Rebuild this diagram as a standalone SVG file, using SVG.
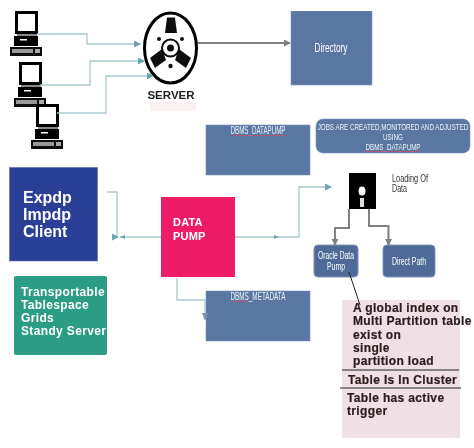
<svg xmlns="http://www.w3.org/2000/svg" width="474" height="448" viewBox="0 0 474 448">
<style>
text{font-family:"Liberation Sans",Arial,sans-serif}
.blue{fill:#5a76a2;stroke:#8296b8;stroke-width:.6}
.dark{fill:#4f6b98;stroke:#7e93b6;stroke-width:1}
.lbl{fill:#fff;text-anchor:middle}
.dbms{fill:#eef2f8;text-anchor:middle}
.cw{fill:#fff;font-weight:bold}
.note{fill:#2a1c1e;font-weight:bold;font-size:12px;letter-spacing:.35px;stroke:#2a1c1e;stroke-width:.2}
.teal{fill:none;stroke:#a9c8cd;stroke-width:1.3}
.grey{fill:none;stroke:#7f8285;stroke-width:2}
.sq{fill:none;stroke:#c0506e;stroke-width:.8}
</style>
<defs>
<marker id="at" markerWidth="8" markerHeight="8" refX="6" refY="3.5" orient="auto" markerUnits="userSpaceOnUse"><path d="M0 0L7 3.5L0 7Z" fill="#6fa3ab"/></marker>
<marker id="ag" markerWidth="8" markerHeight="8" refX="6" refY="3.5" orient="auto" markerUnits="userSpaceOnUse"><path d="M0 0L7 3.5L0 7Z" fill="#7f8285"/></marker>
<g id="pc">
<rect x="6.5" y="1.5" width="20" height="20" fill="#fff" stroke="#000" stroke-width="3"/>
<rect x="7" y="23" width="20" height="2" fill="#888"/>
<rect x="4" y="25" width="24" height="10" fill="#000"/>
<rect x="10" y="28" width="7" height="1.5" fill="#fff"/>
<rect x="0" y="36" width="32" height="9" fill="#111"/>
<rect x="2" y="38" width="21" height="4" fill="#999"/>
<rect x="25" y="38" width="5" height="4" fill="#aaa"/>
</g>
<filter id="soft" x="0" y="0" width="100%" height="100%"><feGaussianBlur stdDeviation="0.35"/></filter>
</defs>
<rect width="474" height="448" fill="#fff"/>
<g filter="url(#soft)">

<g id="pc1"><use href="#pc" transform="translate(10,11)"/></g>
<g id="pc2"><use href="#pc" transform="translate(14,62)"/></g>
<g id="pc3"><use href="#pc" transform="translate(31,104)"/></g>

<g id="server">
<ellipse cx="170.5" cy="48" rx="26" ry="35" fill="#fff" stroke="#000" stroke-width="3"/>
<path d="M167 17.500H175L177 33H165Z" fill="#111"/>
<path d="M150 58L162 49L166 60L155 68Z" fill="#111"/>
<path d="M191 58L179 49L175 60L186 68Z" fill="#111"/>
<circle cx="170.5" cy="48" r="8.500" fill="none" stroke="#111" stroke-width="2"/>
<circle cx="170.5" cy="48" r="3.500" fill="#111"/>
<circle cx="159" cy="39" r="2" fill="#111"/>
<circle cx="182" cy="39" r="2" fill="#111"/>
<circle cx="170.5" cy="66" r="2.200" fill="#111"/>
<rect x="150" y="102" width="46" height="9" fill="#fbf0f0"/>
<text x="171" y="99" font-size="11.500" font-weight="bold" text-anchor="middle" fill="#222">SERVER</text>
</g>

<g id="directory">
<rect class="blue" x="291" y="11" width="81" height="74"/>
<text class="lbl" x="331" y="52" font-size="12" textLength="33" lengthAdjust="spacingAndGlyphs">Directory</text>
</g>

<g id="dbms-datapump">
<rect class="blue" x="206" y="125" width="104" height="50"/>
<text class="dbms" x="258" y="134" font-size="10" textLength="55" lengthAdjust="spacingAndGlyphs">DBMS_DATAPUMP</text>
<path class="sq" d="M231 135.500h55"/>
</g>

<g id="jobs">
<rect class="blue" x="316" y="119" width="154" height="34" rx="7"/>
<text class="dbms" transform="translate(393,130) scale(.66,1)" font-size="9.500">JOBS ARE CREATED,MONITORED AND  ADJUSTED</text>
<text class="dbms" x="393" y="140" font-size="9.500" textLength="20" lengthAdjust="spacingAndGlyphs">USING</text>
<text class="dbms" x="393" y="150" font-size="9.500" textLength="55" lengthAdjust="spacingAndGlyphs">DBMS_DATAPUMP</text>
<path class="sq" d="M365 151.500h55"/>
</g>

<g id="client">
<rect x="9.500" y="167.500" width="88" height="93.500" fill="#2b4096" stroke="#5a6cae" stroke-width=".6"/>
<text class="cw" x="23" y="203" font-size="16">Expdp</text>
<text class="cw" x="23" y="220" font-size="16">Impdp</text>
<text class="cw" x="23" y="237" font-size="16">Client</text>
</g>

<g id="transportable">
<rect x="14" y="276" width="93" height="79" rx="2" fill="#2a9d84"/>
<text class="cw" x="21" y="296" font-size="12" letter-spacing=".35">Transportable</text>
<text class="cw" x="21" y="309" font-size="12" letter-spacing=".35">Tablespace</text>
<text class="cw" x="21" y="322" font-size="12" letter-spacing=".35">Grids</text>
<text class="cw" x="21" y="335" font-size="12" letter-spacing=".35">Standy Server</text>
</g>

<g id="data-pump">
<rect x="161" y="197" width="74" height="80" fill="#ee1e66"/>
<text class="cw" x="173" y="226" font-size="11" letter-spacing=".2">DATA</text>
<text class="cw" x="173" y="240" font-size="11" letter-spacing=".2">PUMP</text>
</g>

<g id="dbms-metadata">
<rect class="blue" x="206" y="291" width="104" height="50"/>
<text class="dbms" x="258" y="300" font-size="10" textLength="55" lengthAdjust="spacingAndGlyphs">DBMS_METADATA</text>
<path class="sq" d="M231 301.500h16"/>
</g>

<g id="disk">
<rect x="349" y="173" width="27" height="36" fill="#000"/>
<ellipse cx="362" cy="191" rx="3.500" ry="4.500" fill="#fff"/>
<rect x="360" y="198" width="4" height="9" fill="#ddd"/>
</g>
<g id="loading">
<text x="392" y="182" font-size="10" fill="#333" textLength="36" lengthAdjust="spacingAndGlyphs">Loading Of</text>
<text x="392" y="192" font-size="10" fill="#333" textLength="15" lengthAdjust="spacingAndGlyphs">Data</text>
</g>

<g id="oracle">
<rect class="dark" x="314" y="245" width="44" height="32" rx="4"/>
<text class="lbl" x="336" y="259" font-size="10" textLength="36" lengthAdjust="spacingAndGlyphs">Oracle Data</text>
<text class="lbl" x="336" y="270" font-size="10" textLength="18" lengthAdjust="spacingAndGlyphs">Pump</text>
</g>
<g id="direct">
<rect class="dark" x="383" y="245" width="52" height="32" rx="4"/>
<text class="lbl" x="409" y="265" font-size="10" textLength="34" lengthAdjust="spacingAndGlyphs">Direct Path</text>
</g>

<g id="note">
<rect x="342" y="300" width="118" height="138" fill="#eee0e4"/>
<text class="note" x="353" y="312">A global index on</text>
<text class="note" x="353" y="325">Multi Partition table</text>
<text class="note" x="353" y="339">exist on</text>
<text class="note" x="353" y="352">single</text>
<text class="note" x="353" y="365">partition load</text>
<path d="M342 370H459M340 388H461" stroke="#222" stroke-width="1"/>
<text class="note" x="348" y="384">Table Is In Cluster</text>
<text class="note" x="347" y="402">Table has active</text>
<text class="note" x="347" y="415">trigger</text>
</g>

<g id="connectors">
<path class="teal" d="M37 34H87V44H140" marker-end="url(#at)"/>
<path class="teal" d="M40 85H90V61H144" marker-end="url(#at)"/>
<path class="teal" d="M57 113H106V76H153" marker-end="url(#at)"/>
<path class="grey" d="M198 43H290" marker-end="url(#ag)"/>
<path class="teal" d="M107 192H117V237"/>
<path d="M112 233.500L119 237L112 240.500Z" fill="#6fa3ab"/>
<path class="teal" d="M161 237H120"/>
<path d="M125 235L120 237L125 239Z" fill="#6fa3ab"/>
<path class="teal" d="M235 237H299V187H331" marker-end="url(#at)"/>
<path d="M274 235L279 237L274 239Z" fill="#6fa3ab"/>
<path class="teal" d="M177 278V300H205V318"/>
<path d="M202 313H208L205 321Z" fill="#7d93ad"/>
<path class="grey" d="M349 209V228H335V245" marker-end="url(#ag)"/>
<path class="grey" d="M369 209V226H388.500V245" marker-end="url(#ag)"/>
<path d="M349 272L360 305" stroke="#222" stroke-width="1"/>
</g>
</g>
</svg>
